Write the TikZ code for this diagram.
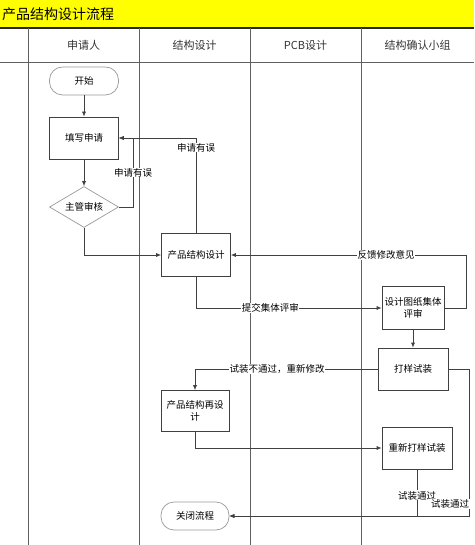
\documentclass[tikz,border=0pt]{standalone}
\usepackage{fontspec}
\setmainfont{Noto Sans CJK SC}
\usetikzlibrary{shapes.geometric,arrows.meta}
\definecolor{linegray}{HTML}{404040}
\definecolor{gridgray}{HTML}{606060}
\definecolor{termgray}{HTML}{9A9A9A}
\definecolor{titleyellow}{HTML}{FFFF00}
\begin{document}
\begin{tikzpicture}[x=1pt,y=-1pt,
  nodefont/.style={font=\fontsize{9.5}{11.5}\selectfont},
  box/.style={draw=linegray, line width=0.7pt, fill=white, inner sep=1pt, align=center, nodefont},
  term/.style={draw=termgray, line width=0.7pt, fill=white, rounded corners=13pt, inner sep=1pt, align=center, nodefont},
  dia/.style={draw=termgray, line width=0.7pt, fill=white, diamond, aspect=1.7, inner sep=0pt, nodefont},
  lbl/.style={fill=white, inner sep=0.6pt, nodefont},
  arr/.style={draw=linegray, line width=0.7pt, -{Latex[length=5pt,width=4pt]}},
  ln/.style={draw=linegray, line width=0.7pt},
  hdr/.style={font=\fontsize{11}{13}\selectfont, text=black!80}]
\useasboundingbox (0,0) rectangle (474,545);
% title bar
\fill[titleyellow] (0,0) rectangle (474,27);
\node[anchor=west, font=\fontsize{14}{16}\selectfont, inner sep=0pt] (title) at (2,14) {产品结构设计流程};
\draw[black!85, line width=1.2pt] (0,28) -- (474,28);
% grid
\draw[gridgray, line width=0.7pt] (0,62) -- (474,62);
\foreach \xx in {28,139,250,361} {\draw[gridgray, line width=0.8pt] (\xx,28) -- (\xx,545);}
\node[hdr] (h1) at (83.5,45) {申请人};
\node[hdr] (h2) at (194.5,45) {结构设计};
\node[hdr] (h3) at (305.5,45) {PCB设计};
\node[hdr] (h4) at (417.5,45) {结构确认小组};
% nodes
\node[term, minimum width=69pt, minimum height=28pt] (start) at (84,81) {开始};
\node[box, minimum width=69pt, minimum height=42pt] (fill) at (84,138) {填写申请};
\node[dia, minimum width=69pt, minimum height=41pt] (check) at (84,207) {主管审核};
\node[box, minimum width=69pt, minimum height=43pt] (design) at (196,255) {产品结构设计};
\node[box, minimum width=62pt, minimum height=43pt] (review) at (413,308) {设计图纸集体\\评审};
\node[box, minimum width=70pt, minimum height=42pt] (trial) at (413,369) {打样试装};
\node[box, minimum width=68pt, minimum height=41pt] (redesign) at (195,411) {产品结构再设\\计};
\node[box, minimum width=70pt, minimum height=42pt] (retrial) at (417,448) {重新打样试装};
\node[term, minimum width=68pt, minimum height=28pt] (close) at (195,516) {关闭流程};
% connectors
\coordinate (j1) at (133,138);
\coordinate (c6) at (466,255);
\coordinate (c12) at (469,516);
\draw[arr] (start) -- (fill);
\draw[arr] (fill) -- (check);
\draw[arr] (check.east) -| node[lbl, pos=0.75] {申请有误} (j1) -- (fill.east);
\draw[arr] (design.north) |- node[lbl, pos=0.45] {申请有误} (fill.east);
\draw[arr] (check.south) |- (design.west);
\draw[arr] (review.east) -| (c6) -- node[lbl, pos=0.34] {反馈修改意见} (design.east);
\draw[arr] (design.south) |- node[lbl, pos=0.70] {提交集体评审} (review.west);
\draw[arr] (review.south) -- (review.south |- trial.north);
\draw[arr] (trial.west) -| node[lbl, pos=0.275] {试装不通过，重新修改} (redesign.north);
\draw[arr] (redesign.south) |- (retrial.west);
\draw[arr] (retrial.south) |- node[lbl, pos=0.28] {试装通过} (close.east);
\draw[arr] (trial.east) -| (c12) -- (close.east);
\node[lbl] (l12) at (450,504) {试装通过};
\end{tikzpicture}
\end{document}
